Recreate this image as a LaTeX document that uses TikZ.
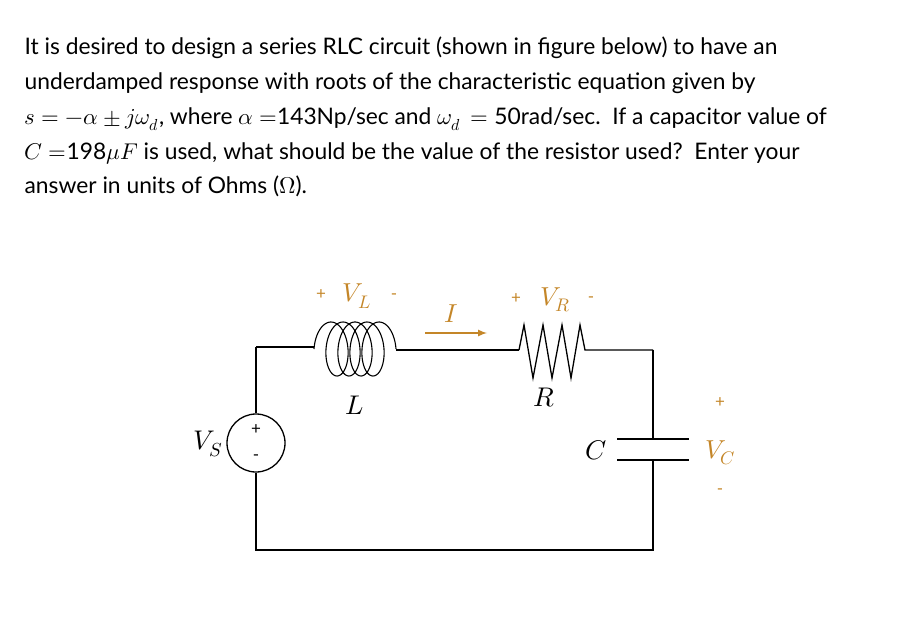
\documentclass[tikz,border=0pt]{standalone}
\usepackage{fontspec}
\setmainfont{Lato}
\usepackage{unicode-math}
\setmathfont{Latin Modern Math}
\begin{document}
\begin{tikzpicture}[x=1pt,y=-1pt,line width=1.3pt,
  txt/.style={anchor=base west,inner sep=0,font=\fontsize{22.8}{26}\selectfont},
  lab/.style={inner sep=0,font=\fontsize{27}{30}\selectfont},
  olab/.style={inner sep=0,text={rgb,255:red,196;green,134;blue,40},font=\fontsize{26}{28}\selectfont},
  sgn/.style={inner sep=0,text={rgb,255:red,196;green,134;blue,40},font=\fontsize{17}{20}\selectfont}]
\useasboundingbox (0,0) rectangle (917,628);
\node[txt] (t1) at (24,55) {It is desired to design a series RLC circuit (shown in figure below) to have an};
\node[txt] (t2) at (24,90) {underdamped response with roots of the characteristic equation given by};
\node[txt] (t3) at (24,125) {$s=-\alpha\pm j\omega_d$, where $\alpha=$143Np/sec and $\omega_d\,=$ 50rad/sec.\ \ If a capacitor value of};
\node[txt] (t4) at (24,160) {$C=$198$\mu F$ is used, what should be the value of the resistor used?\ \ Enter your};
\node[txt] (t5) at (24,194) {answer in units of Ohms ($\Omega$).};
% circuit
\coordinate (lt) at (256,347);
\coordinate (lb) at (256,550);
\coordinate (rt) at (653,350);
\coordinate (rb) at (653,550);
\node[draw,circle,minimum size=58pt,inner sep=0] (src) at (256,443) {};
\node[sgn,text=black] (sp) at (256,430) {+};
\node[sgn,text=black] (sm) at (256,458) {-};
\coordinate (i0) at (314,347);
\coordinate (i1) at (396,350);
\draw (lt) -- (i0);
\draw[line width=1.1pt] plot[domain=0:28.274,samples=260,smooth] ({314+1.91*\x+14*(1-cos(\x r))},{349-27*sin(\x r)});
\coordinate (r0) at (519,350);
\coordinate (r1) at (585,350);
\draw (i1) -- (r0);
\draw (r0) -- (524,325) -- (533,378) -- (543,325) -- (552,378) -- (562,325) -- (571,378) -- (580,325) -- (r1) -- (rt);
\coordinate (c0) at (653,439);
\coordinate (c1) at (653,460);
\draw (rt) -- (c0);
\draw (617,439) -- (689,439);
\draw (617,460) -- (689,460);
\draw (c1) -- (rb) -- (lb) -- (src.south);
\draw (src.north) -- (lt);
\node[lab] (Vs) at (208,444) {$V_S$};
\node[lab] (L) at (355,405) {$L$};
\node[lab] (R) at (544,398) {$R$};
\node[lab] (C) at (596,450) {$C$};
\node[olab] (VL) at (357,296) {$V_L$};
\node[sgn] (VLp) at (321,295) {+};
\node[sgn] (VLm) at (394,297) {-};
\node[olab] (VR) at (555,300) {$V_R$};
\node[sgn] (VRp) at (516,299) {+};
\node[sgn] (VRm) at (591,300) {-};
\node[olab] (I) at (451,314) {$I$};
\coordinate (a0) at (425,333);
\coordinate (a1) at (487,333);
\draw[-latex,line width=2pt,draw={rgb,255:red,196;green,134;blue,40}] (a0) -- (a1);
\node[olab] (Vc) at (720,453) {$V_C$};
\node[sgn] (Vcp) at (720,403) {+};
\node[sgn] (Vcm) at (720,492) {-};
\end{tikzpicture}
\end{document}
